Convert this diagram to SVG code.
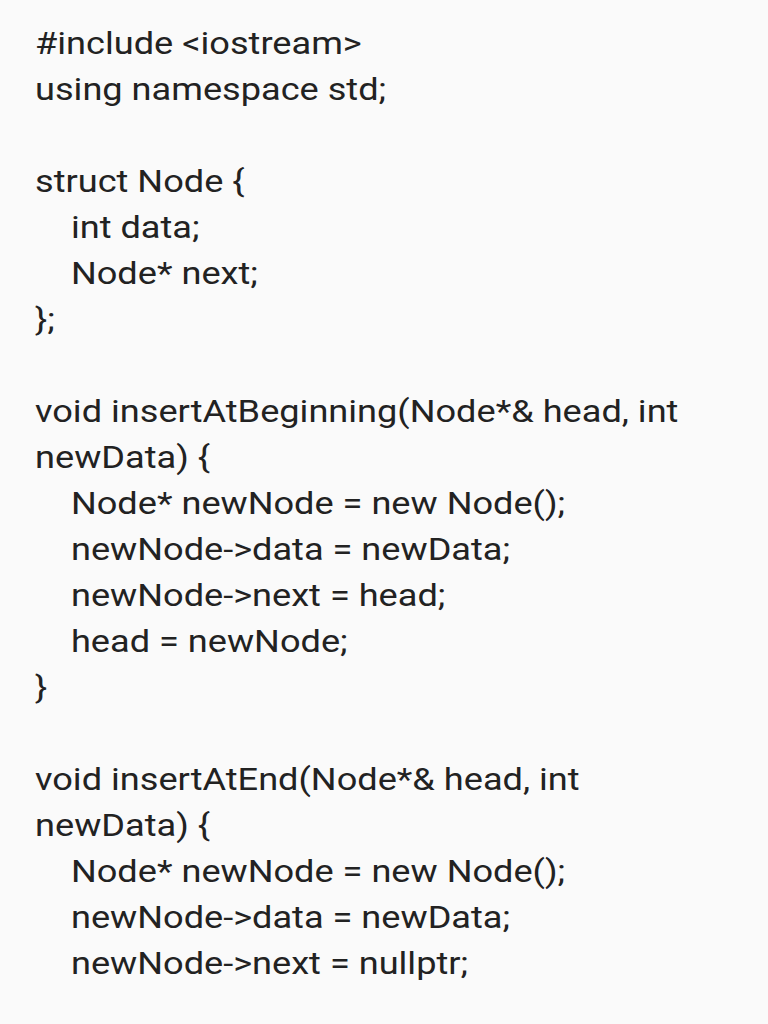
<svg xmlns="http://www.w3.org/2000/svg" width="768" height="1024" viewBox="0 0 768 1024">
<style>text{font-family:Roboto,"Liberation Sans",sans-serif;font-size:32px;fill:#222}</style>
<rect width="768" height="1024" fill="#fafafa"/>
<g transform="scale(1.13,1)">
<text x="31" y="54">#include &lt;iostream&gt;</text>
<text x="31" y="100">using namespace std;</text>
<text x="31" y="192">struct Node {</text>
<text x="62.8" y="238">int data;</text>
<text x="62.8" y="284">Node* next;</text>
<text x="31" y="330">};</text>
<text x="31" y="422">void insertAtBeginning(Node*&amp; head, int</text>
<text x="31" y="468">newData) {</text>
<text x="62.8" y="514">Node* newNode = new Node();</text>
<text x="62.8" y="560">newNode-&gt;data = newData;</text>
<text x="62.8" y="606">newNode-&gt;next = head;</text>
<text x="62.8" y="652">head = newNode;</text>
<text x="31" y="698">}</text>
<text x="31" y="790">void insertAtEnd(Node*&amp; head, int</text>
<text x="31" y="836">newData) {</text>
<text x="62.8" y="882">Node* newNode = new Node();</text>
<text x="62.8" y="928">newNode-&gt;data = newData;</text>
<text x="62.8" y="974">newNode-&gt;next = nullptr;</text>
</g>
</svg>
